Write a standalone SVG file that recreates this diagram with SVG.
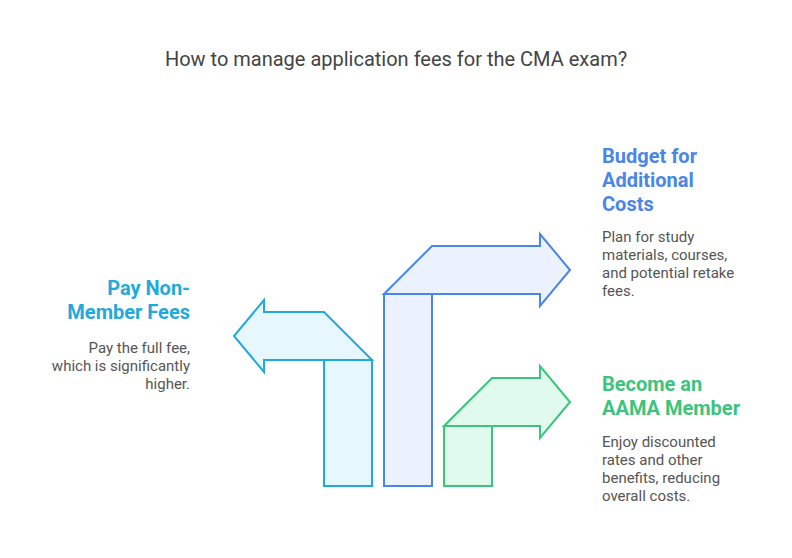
<svg xmlns="http://www.w3.org/2000/svg" width="792" height="558" viewBox="0 0 792 558">
<style>
.title{font-family:Roboto,"Liberation Sans",sans-serif;font-size:20px;fill:#444444;text-anchor:middle}
.h{font-family:Roboto,"Liberation Sans",sans-serif;font-size:20px;font-weight:bold}
.d{font-family:Roboto,"Liberation Sans",sans-serif;font-size:15px;fill:#555555}
.r{text-anchor:end}
.cy{fill:#e6f7fd;stroke:#1faadb;stroke-width:2;stroke-linejoin:miter}
.bl{fill:#ebf2fd;stroke:#4a86e8;stroke-width:2}
.gr{fill:#e0fbee;stroke:#3cc47c;stroke-width:2}
</style>
<rect width="792" height="558" fill="#ffffff"/>
<text class="title" x="396" y="66">How to manage application fees for the CMA exam?</text>
<g id="connectors"></g>
<g id="pay-non-member">
<rect class="cy" x="324" y="360" width="48" height="126"/>
<polygon class="cy" points="372,360 264,360 264,372 234,336 264,300 264,312 324,312"/>
<text class="h r" fill="#1faadb" x="190" y="295">Pay Non-</text>
<text class="h r" fill="#1faadb" x="190" y="319">Member Fees</text>
<text class="d r" x="190" y="353">Pay the full fee,</text>
<text class="d r" x="190" y="371">which is significantly</text>
<text class="d r" x="190" y="389">higher.</text>
</g>
<g id="budget">
<rect class="bl" x="384" y="294" width="48" height="192"/>
<polygon class="bl" points="384,294 432,246 540,246 540,234 570,270 540,306 540,294"/>
<text class="h" fill="#4a86e8" x="602" y="163">Budget for</text>
<text class="h" fill="#4a86e8" x="602" y="187">Additional</text>
<text class="h" fill="#4a86e8" x="602" y="211">Costs</text>
<text class="d" x="602" y="242">Plan for study</text>
<text class="d" x="602" y="260">materials, courses,</text>
<text class="d" x="602" y="278">and potential retake</text>
<text class="d" x="602" y="296">fees.</text>
</g>
<g id="aama-member">
<rect class="gr" x="444" y="426" width="48" height="60"/>
<polygon class="gr" points="444,426 492,378 540,378 540,366 570,402 540,438 540,426"/>
<text class="h" fill="#3cc47c" x="602" y="391">Become an</text>
<text class="h" fill="#3cc47c" x="602" y="415">AAMA Member</text>
<text class="d" x="602" y="447">Enjoy discounted</text>
<text class="d" x="602" y="465">rates and other</text>
<text class="d" x="602" y="483">benefits, reducing</text>
<text class="d" x="602" y="501">overall costs.</text>
</g>
</svg>
